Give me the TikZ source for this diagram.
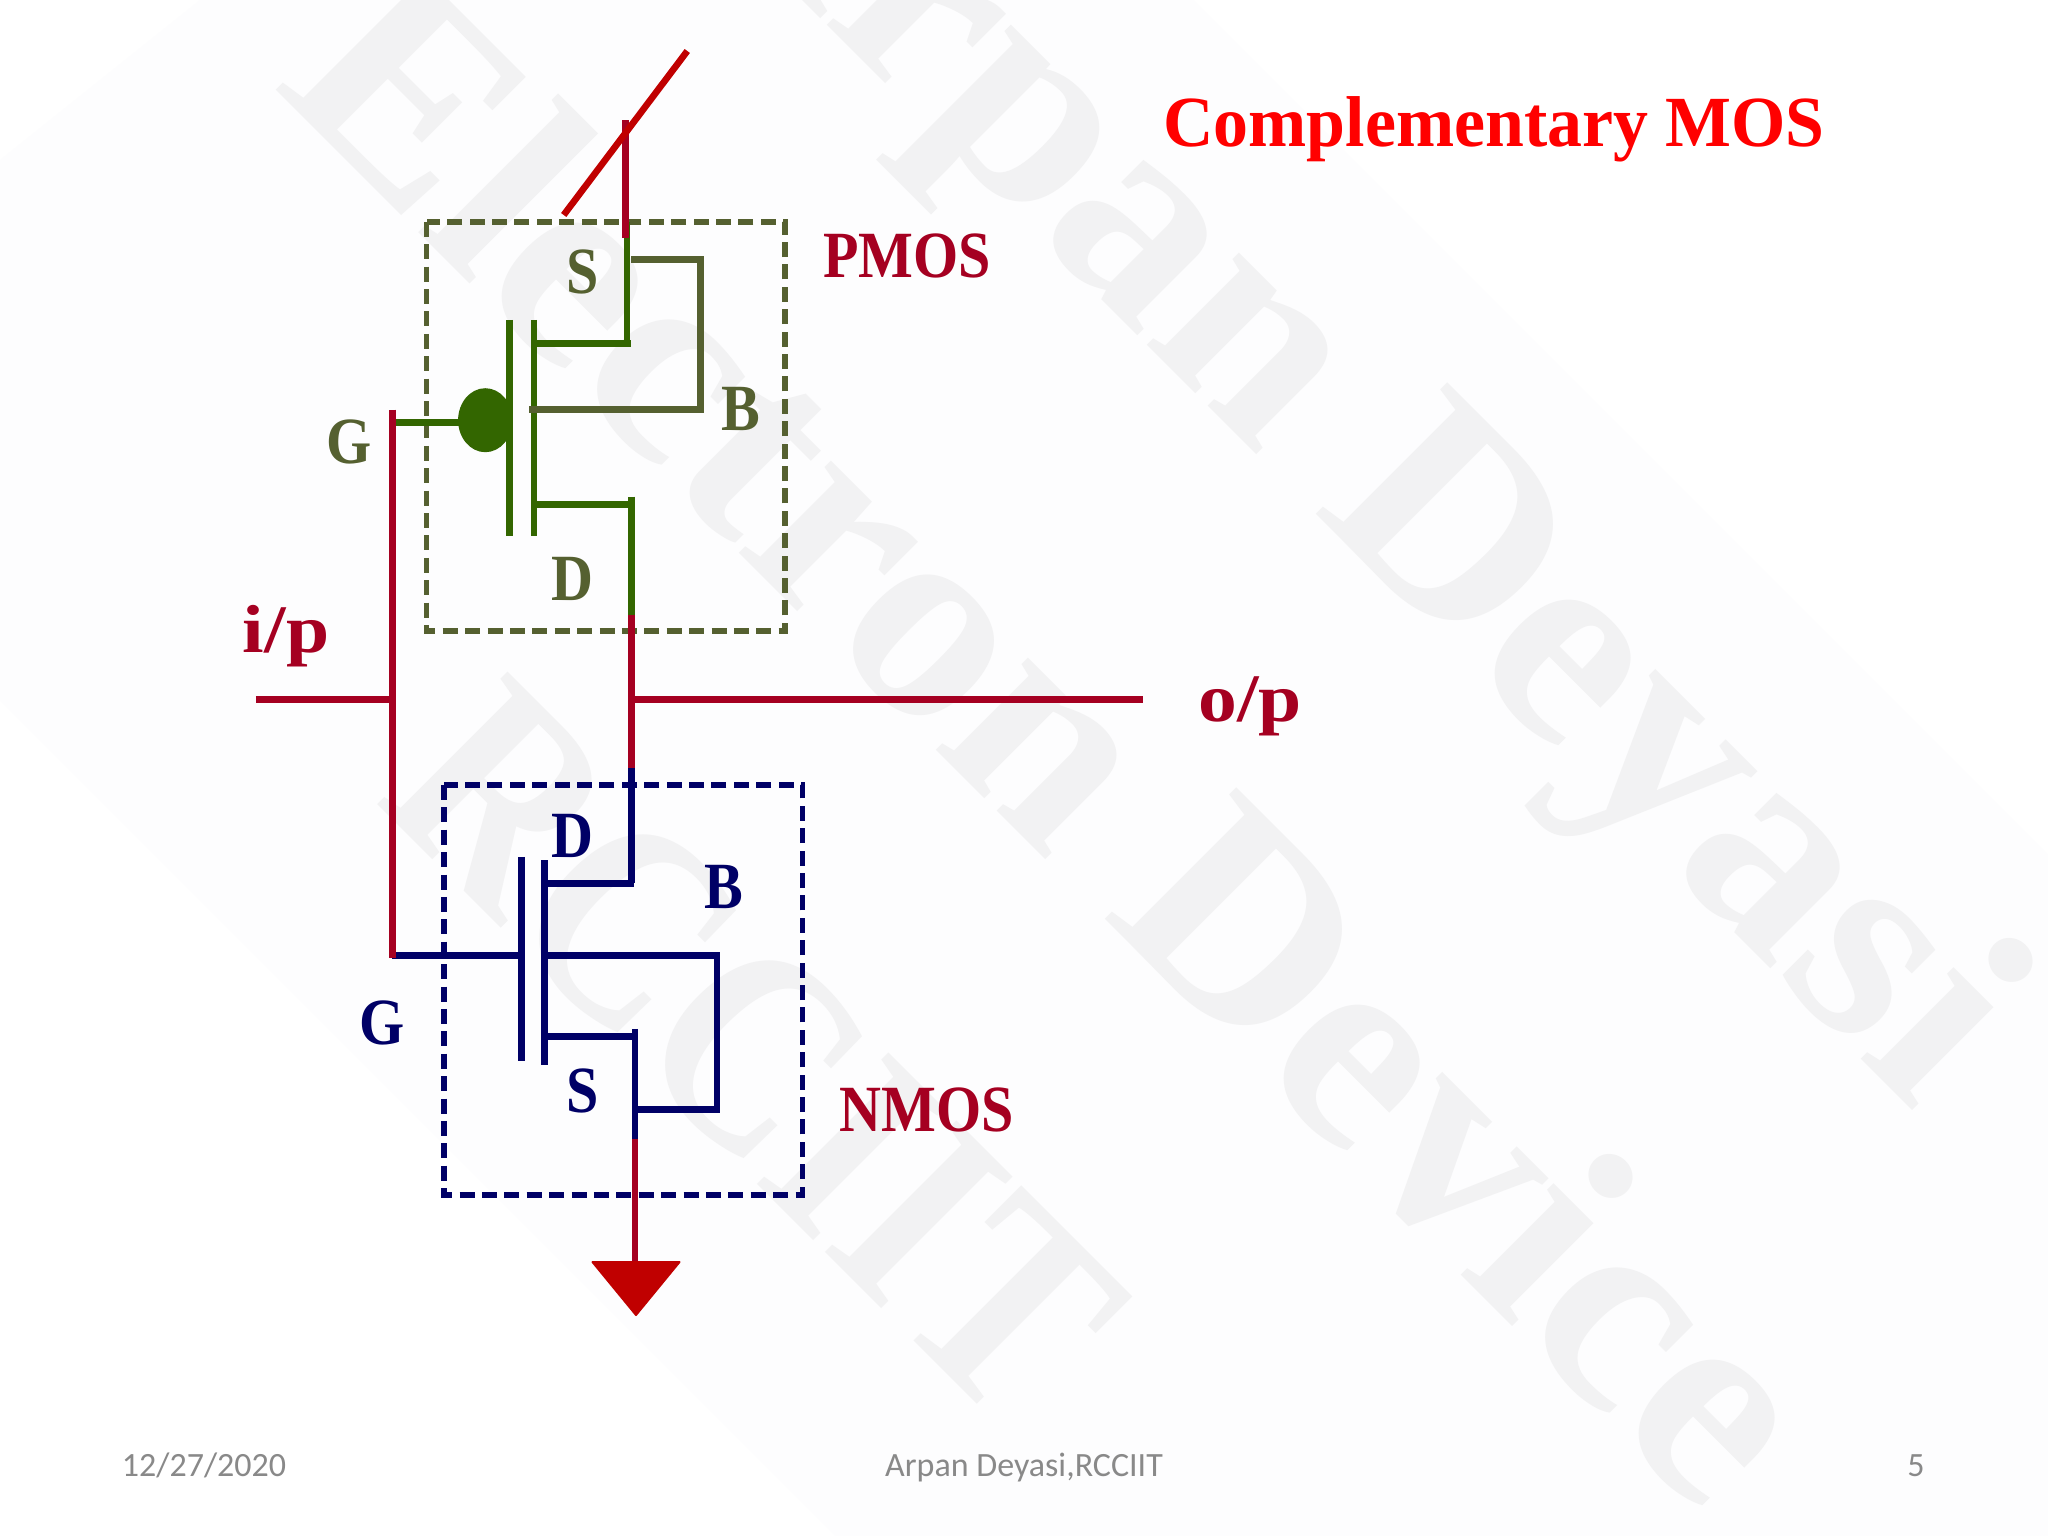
\documentclass[tikz,border=0pt]{standalone}
\usepackage{fontspec}
\setmainfont{Liberation Serif}
\newfontfamily\footfont{Carlito}
\newfontfamily\labfont[FakeStretch=0.88]{Liberation Serif Bold}
\newfontfamily\ipfont[FakeStretch=1.14]{Liberation Serif Bold}
\newfontfamily\titlefont[FakeStretch=0.97]{Liberation Serif Bold}
\newfontfamily\wmfont[FakeStretch=1.06]{Liberation Serif Bold}
\newfontfamily\wmnarrow[FakeStretch=0.87]{Liberation Serif Bold}
\definecolor{crim}{HTML}{A50021}
\definecolor{brick}{HTML}{C00000}
\definecolor{grn}{HTML}{336600}
\definecolor{oliv}{HTML}{556030}
\definecolor{nvy}{HTML}{000066}
\definecolor{foot}{HTML}{898989}
\definecolor{wm}{HTML}{F2F2F3}
\definecolor{paper}{HTML}{FDFDFE}
\tikzset{
 wire/.style={line width=3.3pt,line cap=butt},
 dashbox/.style={line width=2.9pt,dash pattern=on 7.5pt off 3.7pt},
 lab/.style={font=\labfont\fontsize{33}{34}\selectfont,inner sep=0pt,anchor=center},
 big/.style={font=\labfont\fontsize{33}{34}\selectfont,inner sep=0pt,anchor=center,text=crim},
 ioflag/.style={font=\ipfont\fontsize{34}{35}\selectfont,inner sep=0pt,anchor=center,text=crim},
 foottxt/.style={font=\footfont\fontsize{17}{19}\selectfont,text=foot,inner sep=0pt,anchor=base},
 water/.style={font=\wmfont\fontsize{142}{144}\selectfont,text=wm,inner sep=0pt,rotate=-45,anchor=base west},
}
\begin{document}
\begin{tikzpicture}[x=0.5pt,y=-0.5pt]
\useasboundingbox (0,0) rectangle (2048,1536);
\fill[white] (0,0) rectangle (2048,1536);
\fill[paper] (200,0) -- (1193,0) -- (2048,855) -- (2048,1536) -- (836,1536) -- (0,700) -- (0,160) -- cycle;
% watermark
\begin{scope}
\clip (0,0) rectangle (2048,1536);
\node[water] (w1) at (668,-134) {Arpan Deyasi};
\node[water] (w2) at (272,86) {Electron Device};
\node[water,font=\wmnarrow\fontsize{142}{144}\selectfont] (w3) at (373,800) {RCCIIT};
\end{scope}
% coordinates
\coordinate (vddT) at (625.3,120);
\coordinate (vddB) at (625.3,238);
\coordinate (swA) at (687.3,51);
\coordinate (swB) at (563.7,215);
\coordinate (pSt) at (627,222);
\coordinate (pSb) at (627,343.5);
\coordinate (pSl) at (534,343.5);
\coordinate (pSr) at (631,343.5);
\coordinate (pBa) at (631.4,259.4);
\coordinate (pBb) at (700.4,259.4);
\coordinate (pBc) at (700.4,409.6);
\coordinate (pBd) at (529.4,409.6);
\coordinate (pGt) at (509.4,319.8);
\coordinate (pGb) at (509.4,536);
\coordinate (pCt) at (533.9,319.8);
\coordinate (pCb) at (533.9,536);
\coordinate (pDl) at (534,504.7);
\coordinate (pDr) at (631.4,504.7);
\coordinate (pDt) at (631.4,496.5);
\coordinate (pDb) at (631.4,614.5);
\coordinate (nDt) at (631.4,767.6);
\coordinate (nDb) at (631.4,883.4);
\coordinate (nDl) at (544.3,883.4);
\coordinate (nDr) at (634.3,883.4);
\coordinate (ipT) at (392.2,409.6);
\coordinate (ipB) at (392.2,958);
\coordinate (ipL) at (255.9,699.7);
\coordinate (ipR) at (392.2,699.7);
\coordinate (opL) at (631.4,699.7);
\coordinate (opR) at (1143,699.7);
\coordinate (gP) at (392.2,422.2);
\coordinate (bubW) at (462,422.2);
\coordinate (gN) at (392.2,955.7);
\coordinate (nGe) at (518,955.7);
\coordinate (nGt) at (521.2,856.9);
\coordinate (nGb) at (521.2,1061.1);
\coordinate (nCt) at (544.3,860.3);
\coordinate (nCb) at (544.3,1065);
\coordinate (nBa) at (544.3,955.7);
\coordinate (nBb) at (717.1,955.7);
\coordinate (nBc) at (717.1,1109.3);
\coordinate (nBd) at (636.3,1109.3);
\coordinate (nSl) at (544.3,1036.2);
\coordinate (nSr) at (632,1036.2);
\coordinate (nSt) at (634.8,1028.8);
\coordinate (nSb) at (634.8,1139.2);
\coordinate (gndT) at (634.8,1262);
\coordinate (gndL) at (592.5,1262);
\coordinate (gndR) at (679.5,1262);
\coordinate (gndA) at (636,1315);
% boxes
\draw[dashbox,oliv] (426.5,221.8) rectangle (785.3,631.2);
\draw[dashbox,nvy] (443.7,784.9) rectangle (802.4,1194.7);
% PMOS
\fill[grn] (485.3,420.2) ellipse[x radius=13.6pt,y radius=16pt];
\draw[wire,grn] (gP) -- (bubW);
\draw[wire,grn] (pGt) -- (pGb);
\draw[wire,grn] (pCt) -- (pCb);
\draw[wire,grn] (pSt) -- (pSb);
\draw[wire,grn] (pSl) -- (pSr);
\draw[wire,grn] (pDl) -- (pDr);
\draw[wire,grn] (pDt) -- (pDb);
\draw[wire,oliv,line join=miter] (pBa) -- (pBb) -- (pBc) -- (pBd);
% NMOS
\draw[wire,nvy] (gN) -- (nGe);
\draw[wire,nvy] (nGt) -- (nGb);
\draw[wire,nvy] (nCt) -- (nCb);
\draw[wire,nvy] (nDt) -- (nDb);
\draw[wire,nvy] (nDl) -- (nDr);
\draw[wire,nvy,line join=miter] (nBa) -- (nBb) -- (nBc) -- (nBd);
\draw[wire,nvy] (nSl) -- (nSr);
\draw[wire,nvy] (nSt) -- (nSb);
% red
\draw[wire,crim] (vddT) -- (vddB);
\draw[wire,brick] (swA) -- (swB);
\draw[wire,crim] (ipT) -- (ipB);
\draw[wire,crim] (ipL) -- (ipR);
\draw[wire,crim] (pDb) -- (nDt);
\draw[wire,crim] (opL) -- (opR);
\draw[wire,crim] (nSb) -- (gndT);
\fill[brick,draw=brick,line width=1pt,line join=round] (gndL) -- (gndR) -- (gndA) -- cycle;
% labels
\node[lab,text=oliv] (lS) at (583,272) {S};
\node[lab,text=oliv] (lB) at (741,409) {B};
\node[lab,text=oliv] (lG) at (348.6,442) {G};
\node[lab,text=oliv] (lD) at (572,579) {D};
\node[lab,text=nvy] (mD) at (572,836) {D};
\node[lab,text=nvy] (mB) at (724,887) {B};
\node[lab,text=nvy] (mG) at (382.4,1023) {G};
\node[lab,text=nvy] (mS) at (583,1091) {S};
\node[big] (pmos) at (907,256) {PMOS};
\node[big] (nmos) at (927,1110) {NMOS};
\node[ioflag] (ip) at (286,636) {i/p};
\node[ioflag] (op) at (1250,706) {o/p};
\node[font=\titlefont\fontsize{36}{38}\selectfont,text=red,inner sep=0pt] (title) at (1494,129) {Complementary MOS};
\node[foottxt] (f1) at (204,1476) {12/27/2020};
\node[foottxt] (f2) at (1024,1476) {Arpan Deyasi,RCCIIT};
\node[foottxt] (f3) at (1916,1476) {5};
\end{tikzpicture}
\end{document}
